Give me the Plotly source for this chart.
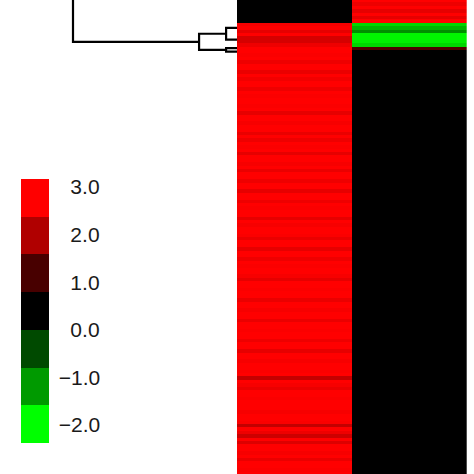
import plotly.graph_objects as go

# ---------------- data ----------------
samples = ["Sample 1", "Sample 2"]

# expression values per gene row (top to bottom)
sample1 = [
    0.0, 0.0, 0.0, 0.0, 0.0, 0.0, 0.0, 2.9, 3.0, 2.7,
    3.0, 2.5, 2.5, 2.8, 3.0, 3.0, 2.95, 3.0, 2.8, 3.0,
    3.0, 2.75, 3.0, 2.85, 3.0, 3.0, 2.8, 3.0, 2.95, 3.0,
    3.0, 2.95, 3.0, 2.7, 3.0, 3.0, 2.9, 3.0, 3.0, 2.75,
    3.0, 2.8, 3.0, 2.95, 3.0, 2.7, 3.0, 3.0, 2.9, 3.0,
    2.75, 3.0, 3.0, 2.8, 3.0, 3.0, 2.7, 3.0, 3.0, 2.8,
    3.0, 2.95, 3.0, 3.0, 2.7, 3.0, 2.9, 3.0, 3.0, 2.95,
    2.75, 3.0, 3.0, 2.7, 3.0, 3.0, 2.8, 3.0, 2.95, 3.0,
    3.0, 2.9, 2.7, 3.0, 3.0, 2.95, 3.0, 3.0, 2.75, 3.0,
    3.0, 2.9, 3.0, 3.0, 2.75, 3.0, 3.0, 2.95, 3.0, 3.0,
    2.8, 3.0, 3.0, 2.7, 3.0, 3.0, 2.9, 3.0, 3.0, 2.95,
    3.0, 2.3, 3.0, 2.9, 2.75, 3.0, 3.0, 2.95, 3.0, 3.0,
    3.0, 2.9, 3.0, 3.0, 2.95, 2.3, 3.0, 2.8, 2.4, 3.0,
    2.6, 3.0, 3.0, 2.9, 3.0, 2.75, 3.0, 3.0, 2.95, 3.0,
]
sample2 = [
    3.0, 2.8, 3.0, 2.7, 3.0, 2.7, 3.0, -2.5, -2.1, -1.7,
    -2.9, -2.9, -2.8, -2.5, 0.9, 0.0, 0.0, 0.0, 0.0, 0.0,
    0.0, 0.0, 0.0, 0.0, 0.0, 0.0, 0.0, 0.0, 0.0, 0.0,
    0.0, 0.0, 0.0, 0.0, 0.0, 0.0, 0.0, 0.0, 0.0, 0.0,
    0.0, 0.0, 0.0, 0.0, 0.0, 0.0, 0.0, 0.0, 0.0, 0.0,
    0.0, 0.0, 0.0, 0.0, 0.0, 0.0, 0.0, 0.0, 0.0, 0.0,
    0.0, 0.0, 0.0, 0.0, 0.0, 0.0, 0.0, 0.0, 0.0, 0.0,
    0.0, 0.0, 0.0, 0.0, 0.0, 0.0, 0.0, 0.0, 0.0, 0.0,
    0.0, 0.0, 0.0, 0.0, 0.0, 0.0, 0.0, 0.0, 0.0, 0.0,
    0.0, 0.0, 0.0, 0.0, 0.0, 0.0, 0.0, 0.0, 0.0, 0.0,
    0.0, 0.0, 0.0, 0.0, 0.0, 0.0, 0.0, 0.0, 0.0, 0.0,
    0.0, 0.0, 0.0, 0.0, 0.0, 0.0, 0.0, 0.0, 0.0, 0.0,
    0.0, 0.0, 0.0, 0.0, 0.0, 0.0, 0.0, 0.0, 0.0, 0.0,
    0.0, 0.0, 0.0, 0.0, 0.0, 0.0, 0.0, 0.0, 0.0, 0.0,
]

# dendrogram: leaf cluster positions (row units) and merges (left, right, height, name)
leaf_positions = {"top": -25.0, "a": 8.0, "b": 11.5, "c": 14.0, "d": 15.0}
merges = [
    ("a", "b", 0.23, "n1"),
    ("c", "d", 0.23, "n2"),
    ("n1", "n2", 0.80, "n3"),
    ("top", "n3", 3.46, "n4"),
]

# legend levels
legend_ticks = [3.0, 2.0, 1.0, 0.0, -1.0, -2.0]
legend_labels = ["\u20073.0", "\u20072.0", "\u20071.0", "\u20070.0", "\u22121.0", "\u22122.0"]
legend_colors = ["#00FF00", "#009A00", "#004A00", "#000000", "#480000", "#B00000", "#FF0000"]
legend_min, legend_max = -2.378, 3.168

# ---------------- figure ----------------
n_rows = len(sample1)
rows = list(range(n_rows))
z = [[sample1[i], sample2[i]] for i in rows]

fig = go.Figure()

fig.add_trace(go.Heatmap(
    z=z, x=samples, y=rows,
    colorscale=[[0, "#00FF00"], [0.5, "#000000"], [1, "#FF0000"]],
    zmin=-3, zmax=3, showscale=False, hoverinfo="skip",
))

# dendrogram lines
pos = dict(leaf_positions)
hgt = {k: 0.0 for k in leaf_positions}
hgt["top"] = 2.0
xs, ys = [], []
for l, r, h, name in merges:
    xs += [hgt[l], h, h, hgt[r], None]
    ys += [pos[l], pos[l], pos[r], pos[r], None]
    pos[name] = (pos[l] + pos[r]) / 2
    hgt[name] = h
fig.add_trace(go.Scatter(
    x=xs, y=ys, mode="lines", xaxis="x2", yaxis="y",
    line=dict(color="black", width=2.2), hoverinfo="skip", showlegend=False,
))

# discrete legend (colorbar of a dummy trace)
k = len(legend_colors)
cs = []
for i, c in enumerate(legend_colors):
    cs.append([i / k, c])
    cs.append([(i + 1) / k, c])
fig.add_trace(go.Scatter(
    x=[None] * len(legend_ticks), y=[None] * len(legend_ticks), mode="markers",
    xaxis="x2", yaxis="y", showlegend=False, hoverinfo="skip",
    marker=dict(
        color=legend_ticks, colorscale=cs, cmin=legend_min, cmax=legend_max,
        showscale=True,
        colorbar=dict(
            x=21 / 474, xanchor="left", y=1 - 311 / 474, yanchor="middle",
            thickness=28, thicknessmode="pixels",
            len=264, lenmode="pixels", outlinewidth=0,
            tickvals=legend_ticks, ticktext=legend_labels,
            ticks="outside", ticklen=6, tickcolor="rgba(0,0,0,0)",
            tickfont=dict(family="Liberation Sans, Arial", size=21, color="#1a1a1a"),
            xpad=0, ypad=0,
        ),
    ),
))

fig.update_layout(
    width=474, height=474,
    margin=dict(l=0, r=0, t=0, b=0),
    paper_bgcolor="white", plot_bgcolor="white",
    xaxis=dict(domain=[0.5, 0.9846], showticklabels=False, showgrid=False,
               zeroline=False, ticks=""),
    xaxis2=dict(domain=[0, 0.5], range=[5, 0], anchor="y", showticklabels=False,
                showgrid=False, zeroline=False, visible=False),
    yaxis=dict(range=[n_rows - 0.8, -0.18], showticklabels=False, showgrid=False,
               zeroline=False, ticks=""),
)

fig.write_html("out.html", config={"displayModeBar": False},
               post_script="document.body.style.margin='0px';")
